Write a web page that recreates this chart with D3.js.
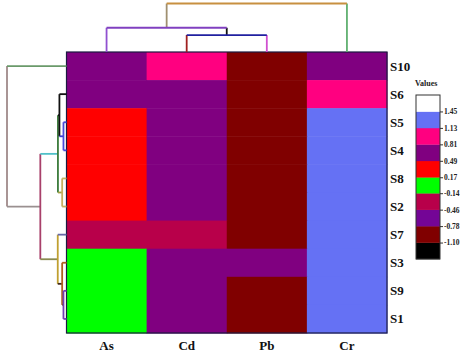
<!DOCTYPE html>
<html><head><meta charset="utf-8">
<script src="https://cdn.jsdelivr.net/npm/d3@7"></script>
<style>body{margin:0;background:#fff}svg{display:block}</style>
</head><body>
<svg id="c" width="474" height="353"></svg>
<script>
// ---- data ----
const rows = ["S10","S6","S5","S4","S8","S2","S7","S3","S9","S1"];
const cols = ["As","Cd","Pb","Cr"];
const asVals = [0.65, 0.62, 0.33, 0.35, 0.30, 0.28, -0.30, 0.02, -0.02, 0.00];
const cdVals = [0.98, 0.60, 0.62, 0.60, 0.58, 0.61, -0.30, 0.60, 0.62, 0.59];
const pbVals = [-0.95, -0.95, -0.94, -0.96, -0.95, -0.93, -0.95, 0.60, -0.96, -0.95];
const crVals = [0.62, 0.98, 1.30, 1.31, 1.29, 1.30, 1.28, 1.30, 1.31, 1.29];
const breaks = [-1.10, -0.78, -0.46, -0.14, 0.17, 0.49, 0.81, 1.13, 1.45];
const breakColors = ["#000000","#800000","#740596","#b8004a","#00ff00","#ff0000","#800080","#ff0080","#6571f4","#ffffff"];
const rowTree = {name:"r0", h:10, children:[
  {name:"S10"},
  {name:"r1", h:4.4, children:[
    {name:"r2", h:1.44, children:[
      {name:"r3", h:1.19, children:[{name:"S6"}, {name:"r4", h:0.51, children:[{name:"S5"},{name:"S4"}]}]},
      {name:"r5", h:0.73, children:[{name:"S8"},{name:"S2"}]}]},
    {name:"r6", h:1.47, children:[
      {name:"S7"},
      {name:"r7", h:0.73, children:[{name:"S3"}, {name:"r8", h:0.51, children:[{name:"S9"},{name:"S1"}]}]}]}]}]};
const colTree = {name:"c0", h:10, children:[
  {name:"c1", h:5.0, children:[{name:"As"}, {name:"c2", h:3.5, children:[{name:"Cd"},{name:"Pb"}]}]},
  {name:"Cr"}]};

// ---- styles ----
const rowLinkColor = {
  r0:{v:"#a08a8a", legs:["#6a9a6a","#9a9090"]},
  r1:{v:"#a8406a", legs:["#50c0c8","#8a8a50"]},
  r2:{v:"#3a7a3a", legs:["#111111","#a0a040"]},
  r3:{v:"#111111", legs:["#111111","#3a3ad0"]},
  r4:{v:"#4a4ad8", legs:["#4a4ad8","#4a4ad8"]},
  r5:{v:"#c8b060", legs:["#c8b060","#c8b060"]},
  r6:{v:"#c0a030", legs:["#6868a8","#402818"]},
  r7:{v:"#b06020", legs:["#b06020","#704010"]},
  r8:{v:"#7040b0", legs:["#7040b0","#7040b0"]}
};
const colLinkColor = {
  c0:{v:"#c89040", legs:["#a09070","#60b070"]},
  c1:{v:"#8040c0", legs:["#9050d0","#111111"]},
  c2:{v:"#2020a0", legs:["#a02020","#d050d0"]}
};

const svg = d3.select("#c");
const X0 = 66.5, X1 = 387, Y0 = 52, Y1 = 333;
const x = d3.scaleBand().domain(cols).range([X0, X1]);
const y = d3.scaleBand().domain(rows).range([Y0, Y1]);
const color = d3.scaleThreshold().domain(breaks).range(breakColors);
const colVals = {As:asVals, Cd:cdVals, Pb:pbVals, Cr:crVals};

const cells = [];
rows.forEach((r,i)=>cols.forEach(c=>cells.push({r, c, v:colVals[c][i]})));
svg.append("g").selectAll("rect").data(cells).join("rect")
  .attr("x", d=>x(d.c)).attr("y", d=>y(d.r))
  .attr("width", x.bandwidth()+0.5).attr("height", y.bandwidth()+0.5)
  .attr("fill", d=>color(d.v));
svg.append("rect").attr("x",X0).attr("y",Y0).attr("width",X1-X0).attr("height",Y1-Y0)
  .attr("fill","none").attr("stroke","#1a1a40").attr("stroke-width",1.2);

// row labels
svg.append("g").selectAll("text").data(rows).join("text")
  .attr("x", 390).attr("y", d=>y(d)+y.bandwidth()/2+4.5)
  .attr("font-family","'Liberation Serif', serif").attr("font-weight","bold")
  .attr("font-size",13).attr("fill","#111").text(d=>d);
// column labels
svg.append("g").selectAll("text").data(cols).join("text")
  .attr("x", d=>x(d)+x.bandwidth()/2).attr("y", 350).attr("text-anchor","middle")
  .attr("font-family","'Liberation Serif', serif").attr("font-weight","bold")
  .attr("font-size",13).attr("fill","#111").text(d=>d);

// row dendrogram
const rd = d3.scaleLinear().domain([0,10]).range([X0, 7]);
const rh = d3.hierarchy(rowTree);
rh.eachAfter(n=>{
  if(!n.children){ n.py = y(n.data.name)+y.bandwidth()/2; n.px = X0; }
  else { n.py = (n.children[0].py + n.children[n.children.length-1].py)/2; n.px = rd(n.data.h); }
});
const gr = svg.append("g").attr("fill","none").attr("stroke-width",1.8);
rh.each(n=>{
  if(!n.children) return;
  const st = rowLinkColor[n.data.name];
  const a = n.children[0], b = n.children[n.children.length-1];
  gr.append("line").attr("x1",n.px).attr("x2",n.px).attr("y1",a.py).attr("y2",b.py).attr("stroke",st.v);
  n.children.forEach((ch,i)=>{
    gr.append("line").attr("x1",n.px).attr("x2",ch.px).attr("y1",ch.py).attr("y2",ch.py).attr("stroke",st.legs[i]);
  });
});

// column dendrogram
const cd = d3.scaleLinear().domain([0,10]).range([Y0, 3.5]);
const ch = d3.hierarchy(colTree);
ch.eachAfter(n=>{
  if(!n.children){ n.px = x(n.data.name)+x.bandwidth()/2; n.py = Y0; }
  else { n.px = (n.children[0].px + n.children[n.children.length-1].px)/2; n.py = cd(n.data.h); }
});
const gc = svg.append("g").attr("fill","none").attr("stroke-width",1.8);
ch.each(n=>{
  if(!n.children) return;
  const st = colLinkColor[n.data.name];
  const a = n.children[0], b = n.children[n.children.length-1];
  n.children.forEach((c,i)=>{
    gc.append("line").attr("x1",c.px).attr("x2",c.px).attr("y1",n.py).attr("y2",c.py).attr("stroke",st.legs[i]);
  });
  gc.append("line").attr("x1",a.px).attr("x2",b.px).attr("y1",n.py).attr("y2",n.py).attr("stroke",st.v);
});

// legend
const LX = 416, LW = 24;
const ly = d3.scaleLinear().domain([-1.42, 1.77]).range([259, 95]);
const bounds = [ly.domain()[0], ...breaks, ly.domain()[1]];
const bands = breakColors.map((c,i)=>({c, lo:bounds[i], hi:bounds[i+1]}));
const lg = svg.append("g");
lg.selectAll("rect").data(bands).join("rect")
  .attr("x",LX).attr("width",LW)
  .attr("y",d=>ly(d.hi)).attr("height",d=>ly(d.lo)-ly(d.hi)+0.3)
  .attr("fill",d=>d.c);
lg.append("rect").attr("x",LX).attr("y",95).attr("width",LW).attr("height",164)
  .attr("fill","none").attr("stroke","#333").attr("stroke-width",1);
const fmt = d3.format(".2f");
const ax = lg.append("g").attr("transform",`translate(${LX+LW},0)`)
  .call(d3.axisRight(ly).tickValues(breaks).tickSize(3).tickPadding(1)
    .tickFormat(d=>fmt(d).replace("\u2212","-")));
ax.select(".domain").remove();
ax.selectAll("line").attr("stroke","#333");
ax.selectAll("text").attr("font-family","'Liberation Serif', serif").attr("font-weight","bold")
  .attr("font-size",7.5).attr("fill","#222");
lg.append("text").attr("x",415).attr("y",86)
  .attr("font-family","'Liberation Serif', serif").attr("font-weight","bold")
  .attr("font-size",8).attr("fill","#222").text("Values");
</script>
</body></html>
